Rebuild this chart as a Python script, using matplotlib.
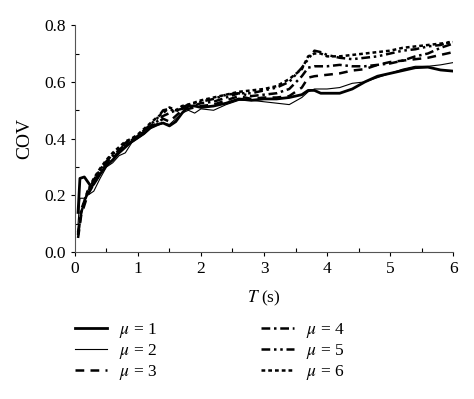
import numpy as np
import matplotlib
matplotlib.use('Agg')
import matplotlib.pyplot as plt
from matplotlib.ticker import MultipleLocator

plt.rcParams['font.family'] = ['Liberation Serif', 'DejaVu Serif']
plt.rcParams['mathtext.fontset'] = 'stix'
plt.rcParams['font.size'] = 12.5

# period T (s) and COV
t1 = [0.05, 0.08, 0.15, 0.26, 0.3, 0.4, 0.5, 0.6, 0.7, 0.8, 0.9, 1.0, 1.1, 1.2, 1.3, 1.4, 1.5, 1.6, 1.7,
      1.8, 1.9, 2.0, 2.2, 2.4, 2.6, 2.8, 3.0, 3.2, 3.4, 3.6, 3.7, 3.8, 3.9, 4.0, 4.2, 4.4, 4.6, 4.8,
      5.0, 5.2, 5.4, 5.6, 5.8, 6.0]
cov1 = [0.14, 0.26, 0.265, 0.23, 0.24, 0.275, 0.305, 0.325, 0.35, 0.37, 0.39, 0.405, 0.42, 0.44, 0.45,
        0.455, 0.445, 0.46, 0.49, 0.515, 0.515, 0.51, 0.515, 0.525, 0.54, 0.535, 0.54, 0.54, 0.545,
        0.555, 0.57, 0.57, 0.56, 0.56, 0.56, 0.575, 0.6, 0.62, 0.63, 0.64, 0.65, 0.652, 0.642, 0.638]

t2 = [0.05, 0.08, 0.15, 0.2, 0.3, 0.4, 0.5, 0.6, 0.7, 0.8, 0.9, 1.0, 1.1, 1.2, 1.3, 1.4, 1.5, 1.6, 1.7,
      1.8, 1.9, 2.0, 2.2, 2.4, 2.6, 2.8, 3.0, 3.2, 3.4, 3.6, 3.7, 3.8, 4.0, 4.2, 4.4, 4.6, 4.8, 5.0,
      5.2, 5.4, 5.6, 5.8, 6.0]
cov2 = [0.10, 0.19, 0.19, 0.20, 0.215, 0.26, 0.30, 0.315, 0.34, 0.35, 0.385, 0.40, 0.415, 0.435, 0.445,
        0.455, 0.45, 0.47, 0.49, 0.50, 0.49, 0.505, 0.50, 0.52, 0.535, 0.535, 0.53, 0.525, 0.52, 0.545,
        0.565, 0.575, 0.575, 0.58, 0.595, 0.60, 0.615, 0.63, 0.645, 0.655, 0.655, 0.66, 0.668]

t3 = [0.05, 0.1, 0.2, 0.3, 0.4, 0.5, 0.6, 0.7, 0.8, 0.9, 1.0, 1.1, 1.2, 1.3, 1.4, 1.5, 1.6, 1.7, 1.8,
      2.0, 2.2, 2.4, 2.6, 2.8, 3.0, 3.2, 3.4, 3.6, 3.7, 3.8, 4.0, 4.2, 4.4, 4.6, 4.8, 5.0, 5.2, 5.4,
      5.6, 5.8, 6.0]
cov3 = [0.05, 0.13, 0.20, 0.24, 0.28, 0.31, 0.33, 0.355, 0.375, 0.39, 0.405, 0.425, 0.44, 0.455, 0.47,
        0.46, 0.48, 0.50, 0.505, 0.515, 0.52, 0.535, 0.55, 0.54, 0.545, 0.545, 0.55, 0.58, 0.615, 0.62,
        0.625, 0.63, 0.64, 0.645, 0.66, 0.67, 0.675, 0.68, 0.685, 0.695, 0.705]
cov4 = [0.06, 0.14, 0.21, 0.25, 0.285, 0.315, 0.34, 0.36, 0.38, 0.395, 0.41, 0.425, 0.445, 0.46, 0.48,
        0.49, 0.50, 0.505, 0.51, 0.525, 0.53, 0.545, 0.56, 0.55, 0.555, 0.56, 0.575, 0.62, 0.65, 0.655,
        0.655, 0.66, 0.655, 0.655, 0.66, 0.665, 0.675, 0.69, 0.70, 0.72, 0.735]

t5 = [0.05, 0.1, 0.2, 0.3, 0.4, 0.5, 0.6, 0.7, 0.8, 0.9, 1.0, 1.1, 1.2, 1.3, 1.4, 1.5, 1.6, 1.7, 1.8,
      2.0, 2.2, 2.4, 2.6, 2.8, 3.0, 3.2, 3.4, 3.6, 3.7, 3.8, 3.9, 4.0, 4.2, 4.4, 4.6, 4.8, 5.0, 5.2,
      5.4, 5.6, 5.8, 6.0]
cov5 = [0.07, 0.15, 0.21, 0.255, 0.29, 0.32, 0.345, 0.365, 0.385, 0.40, 0.41, 0.43, 0.45, 0.47, 0.50,
        0.505, 0.495, 0.51, 0.52, 0.53, 0.54, 0.555, 0.56, 0.56, 0.57, 0.58, 0.60, 0.65, 0.68, 0.71,
        0.705, 0.695, 0.685, 0.68, 0.685, 0.69, 0.70, 0.71, 0.715, 0.725, 0.73, 0.745]
cov6 = [0.065, 0.14, 0.215, 0.26, 0.295, 0.325, 0.35, 0.37, 0.39, 0.40, 0.415, 0.435, 0.455, 0.475,
        0.49, 0.51, 0.50, 0.515, 0.52, 0.535, 0.545, 0.555, 0.565, 0.57, 0.575, 0.585, 0.61, 0.645,
        0.69, 0.70, 0.70, 0.69, 0.69, 0.695, 0.70, 0.705, 0.71, 0.72, 0.725, 0.73, 0.735, 0.74]

labels = ['$\\mu$ = 1', '$\\mu$ = 2', '$\\mu$ = 3', '$\\mu$ = 4', '$\\mu$ = 5', '$\\mu$ = 6']

fig = plt.figure(figsize=(4.74, 3.99), dpi=100)
ax = fig.add_axes([0.158, 0.368, 0.798, 0.569])

ax.plot(t1, cov1, color='black', lw=2.0, label=labels[0])
ax.plot(t2, cov2, color='black', lw=0.8, label=labels[1])
ax.plot(t3, cov3, color='black', lw=1.8, dashes=(3.5, 2.5), label=labels[2])
ax.plot(t3, cov4, color='black', lw=1.8, dashes=(3.5, 1.5, 1, 1.5), label=labels[3])
ax.plot(t5, cov5, color='black', lw=1.8, dashes=(3.5, 1.5, 1, 1.5, 1, 1.5), label=labels[4])
ax.plot(t5, cov6, color='black', lw=1.8, dashes=(1.5, 1.2), label=labels[5])

ax.set_xlim(0, 6)
ax.set_ylim(0, 0.8)
ax.xaxis.set_major_locator(MultipleLocator(1))
ax.xaxis.set_minor_locator(MultipleLocator(0.5))
ax.yaxis.set_major_locator(MultipleLocator(0.2))
ax.yaxis.set_minor_locator(MultipleLocator(0.1))
ax.yaxis.set_major_formatter(plt.FormatStrFormatter('%.1f'))
ax.tick_params(which='major', direction='out', length=3, width=0.8, labelsize=12.5)
ax.tick_params(which='minor', direction='in', length=3, width=0.8)
ax.spines['top'].set_visible(False)
ax.spines['right'].set_visible(False)
ax.spines['left'].set_color('#555555')
ax.spines['bottom'].set_color('#555555')

ax.set_xlabel('$T$ (s)', fontsize=12.5, labelpad=8)
ax.set_ylabel('COV', fontsize=14, labelpad=8)

handles, labs = ax.get_legend_handles_labels()
fig.legend(handles, labs, ncol=2, loc='upper left', bbox_to_anchor=(0.125, 0.235),
           frameon=False, handlelength=1.85, handletextpad=0.7, columnspacing=6.0,
           labelspacing=0.12, fontsize=12.5)

fig.savefig('out.png', dpi=100)
